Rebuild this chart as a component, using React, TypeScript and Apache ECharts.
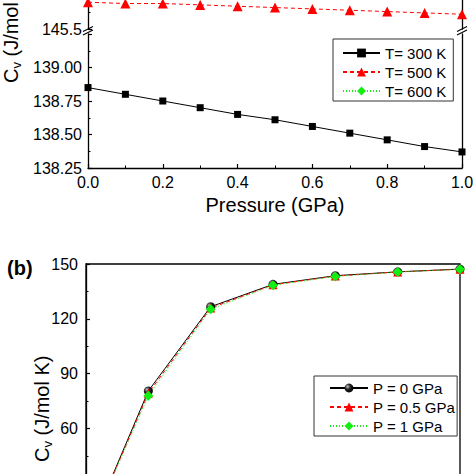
import { useEffect, useRef } from 'react';
import * as echarts from 'echarts';

const FONT = '"Liberation Sans", Arial, Helvetica, sans-serif';

// (a) heat capacity versus pressure, one curve per temperature
const pressure = [0, 0.1, 0.2, 0.3, 0.4, 0.5, 0.6, 0.7, 0.8, 0.9, 1.0];
const cv300K = [138.85, 138.8, 138.75, 138.7, 138.65, 138.61, 138.56, 138.51, 138.46, 138.41, 138.37];
const cv500K = [145.7, 145.69, 145.69, 145.68, 145.67, 145.66, 145.65, 145.64, 145.63, 145.62, 145.61];
const cv600K = [147.21, 147.2, 147.19, 147.18, 147.17, 147.16, 147.15, 147.14, 147.13, 147.12, 147.11];
const namesA = ['T= 300 K', 'T= 500 K', 'T= 600 K'];
// the upper segment of the broken axis is labelled only at its foot
const upperSegmentLabel = 145.5;

// (b) heat capacity versus temperature, one curve per pressure
const temperature = [0, 100, 200, 300, 400, 500, 600];
const cv0GPa = [0, 80.5, 126.6, 138.85, 143.6, 145.7, 147.21];
const cv05GPa = [0, 79.2, 125.9, 138.61, 143.4, 145.66, 147.16];
const cv1GPa = [0, 77.9, 125.2, 138.37, 143.2, 145.61, 147.11];
const namesB = ['P = 0 GPa', 'P = 0.5 GPa', 'P = 1 GPa'];

const BLACK = '#000000';
const RED = '#ff0000';
const GREEN = '#11ee11';

const pairs = (xs: number[], ys: number[]) => xs.map((x, i) => [x, ys[i]]);

const axisLine = { show: true, onZero: false, lineStyle: { color: BLACK, width: 1.3 } };
const tick = { show: true, inside: true, length: 4, lineStyle: { color: BLACK, width: 1.2 } };
const minor = (n: number) => ({ show: true, splitNumber: n, length: 2.5, lineStyle: { color: BLACK, width: 1 } });
const label = (fontSize: number, margin: number, formatter: (v: number) => string) => ({
  show: true,
  color: BLACK,
  fontFamily: FONT,
  fontSize,
  margin,
  formatter,
});
const frameAxis = (gridIndex: number, min: number, max: number) => ({
  type: 'value',
  gridIndex,
  position: 'right',
  min,
  max,
  axisLine,
  axisTick: { show: false },
  axisLabel: { show: false },
  splitLine: { show: false },
});

const sphere = {
  type: 'radial',
  x: 0.35,
  y: 0.35,
  r: 0.7,
  colorStops: [
    { offset: 0, color: '#c8c8c8' },
    { offset: 0.45, color: '#222222' },
    { offset: 1, color: '#000000' },
  ],
};

const yTitle = (x: number, y: number) => ({
  type: 'text',
  x,
  y,
  rotation: Math.PI / 2,
  silent: true,
  style: {
    text: '{a|C}{s|v}{a| (J/mol K)}',
    align: 'left',
    verticalAlign: 'middle',
    rich: {
      a: { fontSize: 20, fontFamily: FONT, fill: BLACK, lineHeight: 24, verticalAlign: 'middle' },
      s: { fontSize: 13, fontFamily: FONT, fill: BLACK, lineHeight: 13, verticalAlign: 'bottom' },
    },
  },
});

// "//" marks where the (a) value axis is broken
const breakMark = (x: number) => [
  { type: 'line', silent: true, shape: { x1: x - 5, y1: 31.5, x2: x + 5, y2: 26.5 }, style: { stroke: BLACK, lineWidth: 1.2 } },
  { type: 'line', silent: true, shape: { x1: x - 5, y1: 35, x2: x + 5, y2: 30 }, style: { stroke: BLACK, lineWidth: 1.2 } },
];

const legendBase = {
  orient: 'vertical',
  itemHeight: 11,
  itemGap: 3,
  borderColor: '#333333',
  borderWidth: 1,
  borderRadius: 0,
  backgroundColor: '#ffffff',
  selectedMode: false,
  textStyle: { color: BLACK, fontFamily: FONT, fontSize: 15, lineHeight: 16 },
};

export default function App() {
  const ref = useRef<HTMLDivElement>(null);

  useEffect(() => {
    document.body.style.margin = '0';
    const chart = echarts.init(ref.current!, undefined, { renderer: 'svg' });
    chart.setOption({
      animation: false,
      backgroundColor: '#ffffff',
      textStyle: { fontFamily: FONT },
      grid: [
        // (a) lower segment of the broken axis
        { left: 88, right: 12, top: 34, height: 134, outerBoundsMode: 'none' },
        // (a) upper segment of the broken axis
        { left: 88, right: 12, top: -239, height: 268, outerBoundsMode: 'none' },
        // (b)
        {
          left: 86,
          right: 14,
          top: 264,
          height: 274,
          outerBoundsMode: 'none',
          show: true,
          borderColor: BLACK,
          borderWidth: 1.3,
        },
      ],
      xAxis: [
        {
          type: 'value',
          gridIndex: 0,
          min: 0,
          max: 1,
          interval: 0.2,
          axisLine,
          axisTick: tick,
          minorTick: minor(2),
          splitLine: { show: false },
          axisLabel: label(16, 6, (v: number) => v.toFixed(1)),
          name: 'Pressure (GPa)',
          nameLocation: 'middle',
          nameGap: 27,
          nameTextStyle: { color: BLACK, fontFamily: FONT, fontSize: 20 },
        },
        { type: 'value', gridIndex: 1, min: 0, max: 1, show: false },
        {
          type: 'value',
          gridIndex: 2,
          min: 0,
          max: 600,
          interval: 100,
          axisLine,
          axisTick: tick,
          minorTick: minor(2),
          splitLine: { show: false },
          axisLabel: { show: false },
        },
      ],
      yAxis: [
        {
          type: 'value',
          gridIndex: 0,
          min: 138.25,
          max: 139.25,
          interval: 0.25,
          axisLine,
          axisTick: tick,
          minorTick: minor(2),
          splitLine: { show: false },
          axisLabel: { ...label(16, 6, (v: number) => v.toFixed(2)), showMaxLabel: false },
        },
        {
          type: 'value',
          gridIndex: 1,
          min: 145.5,
          max: 147.5,
          interval: 0.5,
          axisLine,
          axisTick: tick,
          minorTick: minor(4),
          splitLine: { show: false },
          axisLabel: label(16, 6, (v: number) =>
            Math.abs(v - upperSegmentLabel) < 1e-6 ? v.toFixed(1) : ''
          ),
        },
        {
          type: 'value',
          gridIndex: 2,
          min: 0,
          max: 150,
          interval: 30,
          axisLine,
          axisTick: tick,
          minorTick: minor(2),
          splitLine: { show: false },
          axisLabel: { ...label(16, 8, (v: number) => String(v)), showMinLabel: false },
        },
        frameAxis(0, 138.25, 139.25),
        frameAxis(1, 145.5, 147.5),
      ],
      legend: [
        {
          ...legendBase,
          data: namesA,
          left: 333,
          top: 39,
          itemWidth: 37,
          padding: [6, 7, 2, 9],
        },
        {
          ...legendBase,
          data: namesB,
          left: 314,
          top: 376,
          itemWidth: 38,
          padding: [4, 2, 2, 15],
        },
      ],
      series: [
        {
          name: namesA[0],
          type: 'line',
          xAxisIndex: 0,
          yAxisIndex: 0,
          data: pairs(pressure, cv300K),
          symbol: 'rect',
          symbolSize: 7,
          color: BLACK,
          itemStyle: { color: BLACK },
          lineStyle: { color: BLACK, width: 1 },
          emphasis: { disabled: true },
        },
        {
          name: namesA[1],
          type: 'line',
          xAxisIndex: 1,
          yAxisIndex: 1,
          data: pairs(pressure, cv500K),
          symbol: 'triangle',
          symbolSize: 10,
          color: RED,
          itemStyle: { color: RED },
          lineStyle: { color: RED, width: 1, type: [4, 3] },
          emphasis: { disabled: true },
        },
        {
          name: namesA[2],
          type: 'line',
          xAxisIndex: 1,
          yAxisIndex: 1,
          data: pairs(pressure, cv600K),
          symbol: 'diamond',
          symbolSize: 10,
          color: GREEN,
          itemStyle: { color: GREEN },
          lineStyle: { color: GREEN, width: 1, type: [1, 2] },
          emphasis: { disabled: true },
        },
        {
          name: namesB[0],
          type: 'line',
          xAxisIndex: 2,
          yAxisIndex: 2,
          data: pairs(temperature, cv0GPa),
          symbol: 'circle',
          symbolSize: 9,
          color: BLACK,
          itemStyle: { color: sphere },
          lineStyle: { color: BLACK, width: 1 },
          emphasis: { disabled: true },
        },
        {
          name: namesB[1],
          type: 'line',
          xAxisIndex: 2,
          yAxisIndex: 2,
          data: pairs(temperature, cv05GPa),
          symbol: 'triangle',
          symbolSize: 9,
          color: RED,
          itemStyle: { color: RED },
          lineStyle: { color: RED, width: 1, type: [4, 3] },
          emphasis: { disabled: true },
        },
        {
          name: namesB[2],
          type: 'line',
          xAxisIndex: 2,
          yAxisIndex: 2,
          data: pairs(temperature, cv1GPa),
          symbol: 'diamond',
          symbolSize: 10,
          color: GREEN,
          itemStyle: { color: GREEN },
          lineStyle: { color: GREEN, width: 1, type: [1, 2] },
          emphasis: { disabled: true },
        },
      ],
      graphic: [
        yTitle(11, 83),
        yTitle(42, 462),
        {
          type: 'text',
          x: 7,
          y: 268,
          silent: true,
          style: {
            text: '(b)',
            fill: BLACK,
            font: `bold 20px ${FONT}`,
            align: 'left',
            verticalAlign: 'middle',
          },
        },
        ...breakMark(88),
        ...breakMark(462),
      ],
    });
    return () => chart.dispose();
  }, []);

  return (
    <div
      ref={ref}
      style={{ position: 'absolute', left: 0, top: 0, width: 474, height: 474 }}
    />
  );
}
